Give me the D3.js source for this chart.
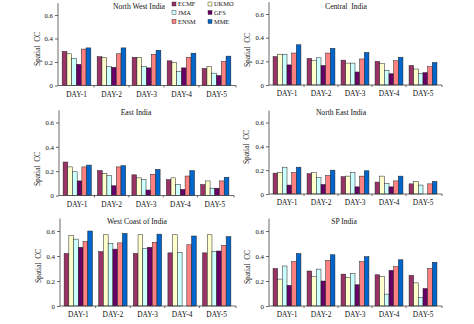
<!DOCTYPE html>
<html>
<head>
<meta charset="utf-8">
<title>Spatial CC</title>
<script src="https://cdn.jsdelivr.net/npm/d3@7"></script>
<style>
  body { margin: 0; background: #fff; }
  text { font-family: "Liberation Serif", "Times New Roman", serif; fill: #111; }
</style>
</head>
<body>
<script>
// categories / series
var days = ["DAY-1", "DAY-2", "DAY-3", "DAY-4", "DAY-5"];
var models = ["ECMF", "UKMO", "JMA", "GFS", "ENSM", "MME"];
var colors = ["#993366", "#FFFFCC", "#CCFFFF", "#660066", "#FF8080", "#0066CC"];
var yTicks = [0, 0.2, 0.4, 0.6];

// values per region: one row per day, order ECMF UKMO JMA GFS ENSM MME
var northWest = [
  [0.29, 0.27, 0.23, 0.18, 0.31, 0.32],
  [0.245, 0.24, 0.16, 0.155, 0.27, 0.32],
  [0.24, 0.24, 0.16, 0.15, 0.265, 0.30],
  [0.21, 0.195, 0.12, 0.15, 0.24, 0.275],
  [0.145, 0.16, 0.105, 0.085, 0.205, 0.25]
];
var central = [
  [0.24, 0.26, 0.26, 0.17, 0.27, 0.34],
  [0.225, 0.205, 0.23, 0.165, 0.27, 0.31],
  [0.21, 0.185, 0.185, 0.11, 0.22, 0.275],
  [0.20, 0.18, 0.125, 0.095, 0.205, 0.235],
  [0.165, 0.135, 0.095, 0.105, 0.155, 0.19]
];
var east = [
  [0.275, 0.235, 0.195, 0.12, 0.235, 0.25],
  [0.205, 0.18, 0.165, 0.08, 0.235, 0.245],
  [0.17, 0.145, 0.13, 0.045, 0.175, 0.215],
  [0.13, 0.145, 0.09, 0.05, 0.16, 0.205],
  [0.09, 0.12, 0.06, 0.06, 0.12, 0.15]
];
var northEast = [
  [0.175, 0.18, 0.225, 0.075, 0.18, 0.225],
  [0.17, 0.18, 0.14, 0.08, 0.155, 0.20],
  [0.145, 0.15, 0.18, 0.06, 0.15, 0.195],
  [0.10, 0.15, 0.09, 0.06, 0.11, 0.15],
  [0.085, 0.105, 0.075, 0, 0.085, 0.105]
];
var westCoast = [
  [0.42, 0.565, 0.535, 0.47, 0.515, 0.60],
  [0.435, 0.57, 0.50, 0.455, 0.505, 0.58],
  [0.42, 0.57, 0.46, 0.47, 0.51, 0.575],
  [0.425, 0.57, 0.43, 0, 0.49, 0.56],
  [0.425, 0.57, 0.435, 0.44, 0.485, 0.555]
];
var spIndia = [
  [0.30, 0.215, 0.32, 0.165, 0.355, 0.42],
  [0.28, 0.235, 0.295, 0.20, 0.365, 0.41],
  [0.255, 0.23, 0.26, 0.17, 0.355, 0.395],
  [0.25, 0.235, 0.095, 0.285, 0.315, 0.37],
  [0.245, 0.185, 0.07, 0.14, 0.30, 0.35]
];

var titles = ["North West India", "Central  India", "East India", "North East India", "West Coast of India", "SP India"];
var values = [northWest, central, east, northEast, westCoast, spIndia];

// panel geometry (pixels)
var panels = [
  {x0: 58, x1: 234, zero: 85.5, six: 15, tx: 139, ty: 8.5, lx: 38, ly: 49},
  {x0: 269, x1: 440, zero: 85, six: 14, tx: 346, ty: 8.5, lx: 248, ly: 50},
  {x0: 59, x1: 232, zero: 195.5, six: 122.5, tx: 136, ty: 114.5, lx: 38, ly: 169},
  {x0: 269, x1: 440, zero: 194, six: 122.5, tx: 341, ty: 115, lx: 247, ly: 147},
  {x0: 60, x1: 234, zero: 306, six: 231, tx: 137, ty: 223.5, lx: 39, ly: 266},
  {x0: 269, x1: 440, zero: 306, six: 231, tx: 344, ty: 223.5, lx: 248, ly: 267}
];

var svg = d3.select("body").append("svg")
  .attr("width", 474)
  .attr("height", 324);

panels.forEach(function(p, k) {
  var g = svg.append("g");
  var y = d3.scaleLinear().domain([0, 0.6]).range([p.zero, p.six]);
  var x = d3.scaleBand().domain(days).range([p.x0 + 1, p.x1]).paddingInner(0.18).paddingOuter(0.09);
  var xm = d3.scaleBand().domain(models).range([0, x.bandwidth()]);

  var rows = values[k];
  var grp = g.selectAll("g.day")
    .data(days)
    .enter().append("g")
    .attr("transform", function(d) { return "translate(" + x(d) + ",0)"; });

  grp.selectAll("rect")
    .data(function(d, i) { return rows[i].map(function(v, j) { return {m: models[j], v: v, c: colors[j]}; }); })
    .enter().append("rect")
    .filter(function(d) { return d.v > 0; })
    .attr("x", function(d) { return xm(d.m); })
    .attr("width", xm.bandwidth())
    .attr("y", function(d) { return y(d.v); })
    .attr("height", function(d) { return p.zero - y(d.v); })
    .attr("fill", function(d) { return d.c; })
    .attr("stroke", "#222")
    .attr("stroke-width", 0.5);

  // y axis
  var yAxis = d3.axisLeft(y).tickValues(yTicks).tickSize(3).tickPadding(2)
    .tickFormat(function(d) { return d === 0 ? "0" : d3.format(".1f")(d); });
  var ya = g.append("g").attr("transform", "translate(" + p.x0 + ",0)").call(yAxis);
  ya.select(".domain").remove();
  ya.append("line").attr("x1", 0).attr("x2", 0)
    .attr("y1", p.zero).attr("y2", y(0.7)).attr("stroke", "#444").attr("stroke-width", 0.8);
  ya.selectAll(".tick line").attr("stroke", "#444").attr("stroke-width", 0.8);
  ya.selectAll(".tick text").attr("font-size", 6.8).attr("font-family", "Liberation Serif").attr("fill", "#222");

  // x axis
  g.append("line").attr("x1", p.x0).attr("x2", p.x1 + 2)
    .attr("y1", p.zero).attr("y2", p.zero).attr("stroke", "#444").attr("stroke-width", 0.8);
  var bounds = days.slice(1).map(function(d) { return x(d) - x.step() * x.paddingInner() / 2; });
  bounds.push(p.x1 + 2);
  g.selectAll("line.xt").data(bounds).enter().append("line")
    .attr("x1", function(d) { return d; }).attr("x2", function(d) { return d; })
    .attr("y1", p.zero).attr("y2", p.zero + 2).attr("stroke", "#444").attr("stroke-width", 0.8);
  g.selectAll("text.xl").data(days).enter().append("text")
    .attr("x", function(d) { return x(d) + x.bandwidth() / 2; })
    .attr("y", p.zero + 11)
    .attr("text-anchor", "middle")
    .attr("font-size", 7.4)
    .text(function(d) { return d; });

  // title
  g.append("text").attr("x", p.tx).attr("y", p.ty)
    .attr("text-anchor", "middle").attr("font-size", 7.6)
    .style("white-space", "pre")
    .text(titles[k]);

  // y label
  g.append("text")
    .attr("transform", "translate(" + (p.lx + 2) + "," + p.ly + ") rotate(-90)")
    .attr("text-anchor", "middle").attr("font-size", 7.4)
    .style("white-space", "pre")
    .text("Spatial  CC");
});

// legend (first panel)
var leg = svg.append("g");
var legX = [172, 208], legY = [4, 12.5, 21.5];
models.forEach(function(m, i) {
  var cx = legX[i % 2], cy = legY[Math.floor(i / 2)];
  leg.append("rect").attr("x", cx).attr("y", cy - 2).attr("width", 4).attr("height", 4)
    .attr("fill", colors[i]).attr("stroke", "#222").attr("stroke-width", 0.4);
  leg.append("text").attr("x", cx + 6).attr("y", cy + 2.2)
    .attr("font-size", 6.4).text(m);
});
</script>
</body>
</html>
